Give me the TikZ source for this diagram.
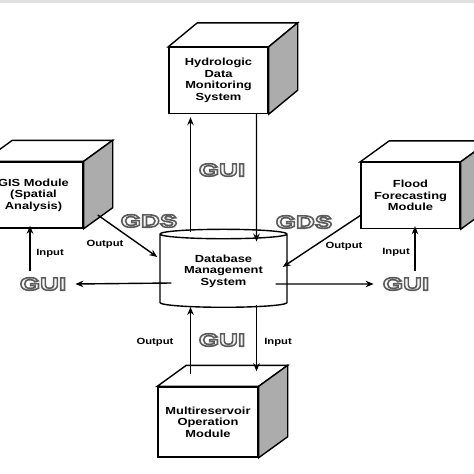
\documentclass[tikz,border=0pt]{standalone}
\usepackage{fontspec}
\usetikzlibrary{arrows.meta,shapes,calc}
\newfontfamily\boxfont[FakeStretch=1.25]{Liberation Sans Bold}
\newfontfamily\guifont[FakeStretch=1.45]{Liberation Sans Bold}
\newcommand{\hollowtxt}[1]{\special{pdf:literal direct 2 Tr 1.6 w 0.97 0.97 0.97 rg 0.36 0.36 0.36 RG}#1\special{pdf:literal direct 0 Tr 0 g 0 G}}

\begin{document}
\begin{tikzpicture}[x=1pt,y=-1pt,>={Stealth[length=8pt,width=6.5pt]},
    module/.style={
      draw=black,
      line width=1.4pt,
      fill=white,
      align=center,
      font=\boxfont\fontsize{10.3}{11.5}\selectfont,
      minimum width=99pt,
      minimum height=66pt,
      inner sep=0pt
    },
    database/.style={
      cylinder,
      shape border rotate=90,
      aspect=0.12,
      draw=black,
      line width=1.4pt,
      fill=white,
      align=center,
      font=\boxfont\fontsize{10.3}{11.5}\selectfont,
      minimum width=127pt,
      minimum height=78pt,
      inner sep=0pt
    },
    lbl/.style={draw=none,font=\boxfont\fontsize{9}{10}\selectfont},
    gui/.style={draw=none,inner sep=3pt,font=\guifont\fontsize{18}{18}\selectfont},
    flow/.style={->,line width=1.4pt}]

\definecolor{sidegray}{RGB}{172,172,172}
\definecolor{bandgray}{RGB}{224,224,224}

\useasboundingbox (0,0) rectangle (474,474);
\fill[bandgray] (0,0) rectangle (474,3);

\node[module] (hds) at (218.5,80.5) {Hydrologic\\Data\\Monitoring\\System};
\node[module] (gis) at (33.5,195) {GIS Module\\(Spatial\\Analysis)};
\node[module] (ffm) at (410.5,195.5) {Flood\\Forecasting\\Module};
\node[module,minimum width=100pt,minimum height=70pt] (mom) at (208,422) {Multireservoir\\Operation\\Module};
\node[database] (dbms) at (223.5,271) {Database\\Management\\System};

\foreach \b/\dy in {hds/24,gis/21,ffm/21,mom/21} {
  \draw[line width=1.4pt,fill=white] (\b.north west) -- ([shift={(29,-\dy)}]\b.north west)
    -- ([shift={(29,-\dy)}]\b.north east) -- (\b.north east) -- cycle;
  \draw[line width=1.4pt,fill=sidegray] (\b.north east) -- ([shift={(29,-\dy)}]\b.north east)
    -- ([shift={(29,-\dy)}]\b.south east) -- (\b.south east) -- cycle;
}

\node[lbl] (outL) at (105,244) {Output};
\node[lbl] (inL) at (50,253) {Input};
\node[lbl] (outR) at (344,246) {Output};
\node[lbl] (inR) at (396,252) {Input};
\node[lbl] (outB) at (155,342) {Output};
\node[lbl] (inB) at (278,342) {Input};

% GUI / GDS labels, placed here so the arrows can refer to them
\path (222,170) node[gui] (guiT) {\phantom{GUI}}
      (149,221) node[gui] (gdsL) {\phantom{GDS}}
      (304,222) node[gui] (gdsR) {\phantom{GDS}}
      (43,284)  node[gui] (guiL) {\phantom{GUI}}
      (406,284) node[gui] (guiR) {\phantom{GUI}}
      (222,340) node[gui] (guiB) {\phantom{GUI}};

\draw[flow] ([xshift=-33pt,yshift=-3pt]dbms.north) -- ([xshift=-33pt,yshift=-3pt]dbms.north |- hds.south);
\draw[flow] ([xshift=38pt]hds.south) -- ([xshift=33pt,yshift=-13pt]dbms.north);
\draw[flow] ([xshift=14pt,yshift=-20pt]gis.east) -- ([xshift=-2pt,yshift=14pt]dbms.west);
\draw[flow] ([yshift=-20pt]ffm.west) -- ([xshift=-5pt,yshift=4pt]dbms.east);
\draw[flow] ([xshift=12pt,yshift=-12pt]dbms.west) -- ([xshift=6pt]guiL.east);
\draw[flow] ([xshift=-12pt,yshift=-13pt]dbms.east) -- ([xshift=-6pt]guiR.west);
\draw[flow] ([xshift=-13pt,yshift=3pt]guiL.north) -- ([xshift=-13pt,yshift=3pt]guiL.north |- gis.south);
\draw[flow] ([xshift=9pt,yshift=3pt]guiR.north) -- ([xshift=9pt,yshift=3pt]guiR.north |- ffm.south);
\draw[flow] ([xshift=-17.5pt,yshift=12pt]mom.north) -- ([xshift=-33pt,yshift=1pt]dbms.south);
\draw[flow] ([xshift=33pt,yshift=3pt]dbms.south) -- ([xshift=48.5pt,yshift=15pt]mom.north);

\foreach \g/\t in {guiT/GUI,gdsL/GDS,gdsR/GDS,guiL/GUI,guiR/GUI,guiB/GUI}
  \node[gui] at (\g) {\hollowtxt{\t}};

\end{tikzpicture}
\end{document}
